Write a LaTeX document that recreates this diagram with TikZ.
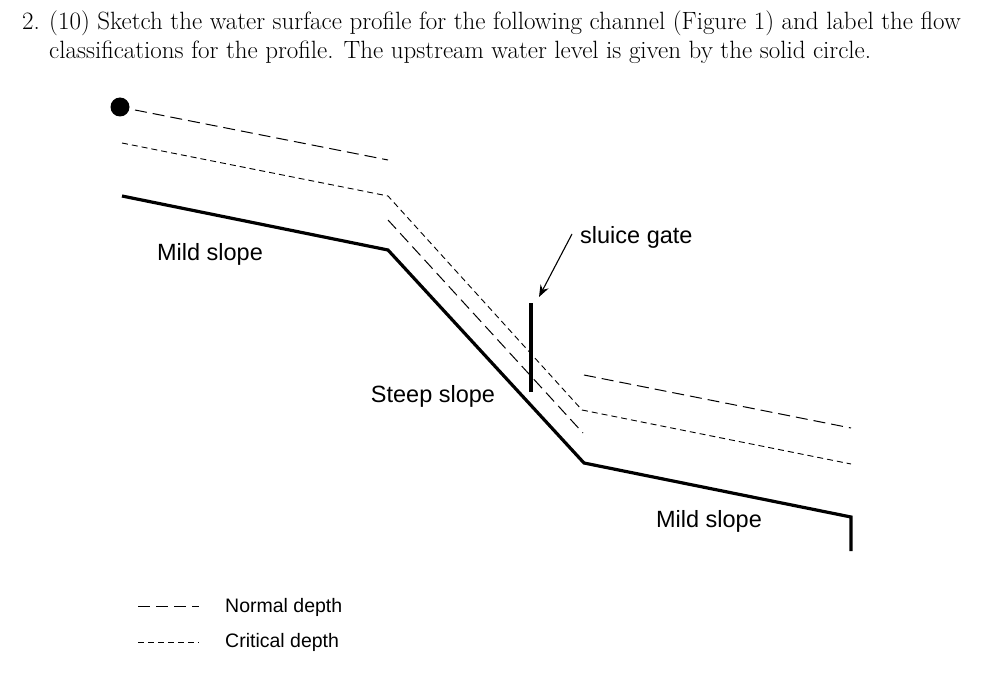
\documentclass[tikz,border=0pt]{standalone}
\usepackage{fontspec}
\newfontfamily\arialf{Liberation Sans}
\usetikzlibrary{arrows.meta}
\begin{document}
\begin{tikzpicture}[x=1pt,y=-1pt,
  bed/.style={line width=3.2pt},
  normal/.style={line width=1pt,dash pattern=on 12pt off 6pt},
  critical/.style={line width=0.9pt,dash pattern=on 6pt off 4pt},
  lbl/.style={font=\arialf\fontsize{23.5}{26}\selectfont,inner sep=0pt},
  head/.style={font=\fontsize{25}{28}\selectfont,anchor=base west,inner sep=0pt}]
\useasboundingbox (0,0) rectangle (999,687);
\node[head] (h0) at (22,30) {2.};
\node[head] (h1) at (49,30) {(10) Sketch the water surface profile for the following channel (Figure 1) and label the flow};
\node[head] (h2) at (49,59) {classifications for the profile. The upstream water level is given by the solid circle.};
% bed
\coordinate (b1) at (122,196); \coordinate (b2) at (388,250);
\coordinate (b3) at (584,463); \coordinate (b4) at (851,517); \coordinate (b5) at (851,551);
\draw[bed,line join=miter] (b1) -- (b2) -- (b3) -- (b4) -- (b5);
% normal depth
\coordinate (n1) at (135,110); \coordinate (n2) at (388,160);
\coordinate (n3) at (388,220); \coordinate (n4) at (583,433);
\coordinate (n5) at (584,375); \coordinate (n6) at (851,428);
\draw[normal] (n1) -- (n2);
\draw[normal] (n3) -- (n4);
\draw[normal] (n5) -- (n6);
% critical depth
\coordinate (c1) at (122,143); \coordinate (c2) at (388,196);
\coordinate (c3) at (582,410); \coordinate (c4) at (851,464);
\draw[critical] (c1) -- (c2) -- (c3) -- (c4);
% circle
\fill (120,107) circle (9.5);
% gate
\coordinate (g1) at (531,303); \coordinate (g2) at (531,392);
\draw[line width=3.4pt] (g1) -- (g2);
\node[lbl,anchor=west] (sg) at (580,237) {sluice gate};
\coordinate (at) at (539,297);
\draw[line width=1.1pt,-{Stealth[length=12pt,width=9pt]}] (572,234) -- (at);
% labels
\node[lbl] (m1) at (210,254) {Mild slope};
\node[lbl] (s1) at (433,396) {Steep slope};
\node[lbl] (m2) at (709,521) {Mild slope};
% legend
\coordinate (l1) at (138,606); \coordinate (l2) at (199,606);
\coordinate (l3) at (138,642); \coordinate (l4) at (199,642);
\draw[normal] (l1) -- (l2);
\draw[critical] (l3) -- (l4);
\node[lbl,anchor=west,font=\arialf\fontsize{19.5}{22}\selectfont] (t1) at (225,607) {Normal depth};
\node[lbl,anchor=west,font=\arialf\fontsize{19.5}{22}\selectfont] (t2) at (225,642) {Critical depth};
\end{tikzpicture}
\end{document}
